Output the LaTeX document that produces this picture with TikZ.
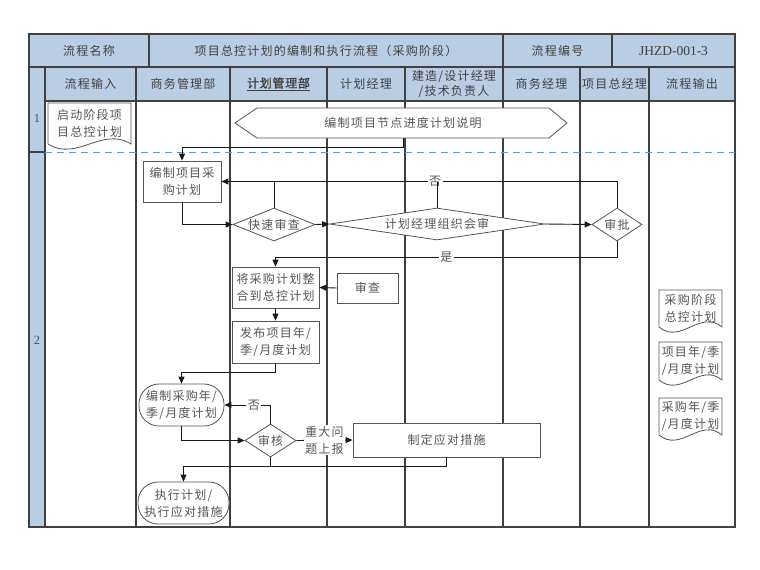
\documentclass[tikz,border=0pt]{standalone}
\usepackage{fontspec}
\setmainfont{Liberation Serif}
\newfontfamily\cjk[LetterSpace=10]{Noto Sans CJK SC}
\newfontfamily\cjkb[LetterSpace=6,FakeBold=1.5]{Noto Sans CJK SC}
\usetikzlibrary{shapes.geometric,arrows.meta,calc}
\definecolor{hdr}{HTML}{B9CDE5}
\definecolor{grid}{HTML}{404040}
\definecolor{txt}{HTML}{555555}
\definecolor{htxt}{HTML}{404040}
\definecolor{dashc}{HTML}{5B9BD5}
\newcommand\docshape[6]{%
  \draw[box] ({#2-#4/2},{#3-#5/2}) -- ({#2+#4/2},{#3-#5/2}) -- ({#2+#4/2},{#3+#5/2})
    .. controls ({#2+#4*0.15},{#3+#5/2-18}) and ({#2-#4*0.15},{#3+#5/2+18}) .. ({#2-#4/2},{#3+#5/2}) -- cycle;
  \node (#1) at (#2,#3) [minimum width=#4, minimum height=#5] {#6};}
\begin{document}
\begin{tikzpicture}[x=1pt,y=-1pt,
  every node/.style={font=\cjk\fontsize{12}{17}\selectfont, text=txt, align=center, inner sep=0pt},
  hd/.style={font=\cjk\fontsize{12}{15}\selectfont, text=htxt},
  box/.style={draw=txt, fill=white, line width=0.8pt},
  dia/.style={diamond, draw=txt, fill=white, line width=0.8pt},
  rbox/.style={draw=txt, fill=white, line width=0.8pt, rounded corners=20pt},
  gline/.style={draw=grid, line width=1.1pt},
  lnk/.style={draw=black!90, line width=0.9pt},
  arr/.style={lnk, -{Triangle[length=7pt,width=6pt]}},
  lbl/.style={fill=white, inner sep=1.5pt}
]
\useasboundingbox (0,0) rectangle (760,570);
% header fills
\fill[hdr] (29,34) rectangle (735,67);
\fill[hdr] (45,67) rectangle (735,101);
\fill[hdr] (29,67) rectangle (45,527);
% grid
\draw[gline] (29,34) rectangle (735,527);
\draw[gline] (29,67) -- (735,67);
\draw[gline] (45,101) -- (735,101);
\foreach \x in {149,503,612} \draw[gline] (\x,34) -- (\x,67);
\foreach \x in {45,136,230,327,405,503,580,649} \draw[gline] (\x,67) -- (\x,527);
\draw[gline] (29,152) -- (45,152);
\draw[dashc, line width=0.9pt, dash pattern=on 7pt off 5pt] (45,152) -- (735,152);
% header texts
\node[hd] (t1) at (89,51) {流程名称};
\node[hd] (t2) at (326,51) {项目总控计划的编制和执行流程（采购阶段）};
\node[hd] (t3) at (557.5,51) {流程编号};
\node[hd, font=\rmfamily\fontsize{13.5}{15}\selectfont] (t4) at (673.5,51) {JHZD-001-3};
\node[hd] (c1h) at (90.5,84) {流程输入};
\node[hd] (c2h) at (183,84) {商务管理部};
\node[hd] (c3h) at (278.5,84) {\underline{\cjkb 计划管理部}};
\node[hd] (c4h) at (366,84) {计划经理};
\node[hd, font=\cjk\fontsize{12}{14.5}\selectfont] (c5h) at (454,84) {建造/设计经理\\/技术负责人};
\node[hd] (c6h) at (541.5,84) {商务经理};
\node[hd] (c7h) at (614.5,84) {项目总经理};
\node[hd] (c8h) at (692,84) {流程输出};
\node[font=\rmfamily\fontsize{12.5}{14}\selectfont] (l1) at (37,118) {1};
\node[font=\rmfamily\fontsize{12.5}{14}\selectfont] (l2) at (37,340) {2};
% input / output documents
\docshape{in}{89.5}{123.5}{83}{41}{启动阶段项\\目总控计划}
\docshape{o1}{690.5}{308.5}{63}{37}{采购阶段\\总控计划}
\docshape{o2}{690.5}{361}{63}{38}{项目年/季\\/月度计划}
\docshape{o3}{690.5}{416.5}{63}{37}{采购年/季\\/月度计划}
% hexagon
\draw[box] (235,123) -- (257,108) -- (549,108) -- (567,123) -- (549,138) -- (257,138) -- cycle;
\node (hex) at (403,123) [minimum width=292, minimum height=30] {编制项目节点进度计划说明};
% coordinates for bends
\coordinate (k1) at (403,147);
\coordinate (ky) at (617,257);
\coordinate (k2) at (275.5,372);
\coordinate (k3) at (270.5,466);
% nodes
\node[box, minimum width=78, minimum height=41] (c1) at (182,181.5) {编制项目采\\购计划};
\node[dia, aspect=2.48, minimum width=82, minimum height=33] (ks) at (274,224.5) {快速审查};
\node[dia, aspect=6.7, minimum width=215, minimum height=32] (hy) at (437,224) {计划经理组织会审};
\node[dia, aspect=1.5, minimum width=50, minimum height=33] (sp) at (617,224.5) {审批};
\node[box, minimum width=87, minimum height=41] (b7) at (275.5,287.5) {将采购计划整\\合到总控计划};
\node[box, minimum width=61, minimum height=30] (sc) at (367.5,288) {审查};
\node[box, minimum width=87, minimum height=42] (b10) at (275.5,342) {发布项目年/\\季/月度计划};
\node[rbox, minimum width=85, minimum height=42] (r1) at (181.5,405) {编制采购年/\\季/月度计划};
\node[dia, aspect=1.55, minimum width=51, minimum height=33] (sh) at (270.5,440.5) {审核};
\node[box, minimum width=187, minimum height=34] (zd) at (446.5,440) {制定应对措施};
\node[rbox, minimum width=91, minimum height=42] (ex) at (183.5,503) {执行计划/\\执行应对措施};
% connectors
\draw[arr] (hex.south) -- (k1) -| (c1.north);
\draw[arr] (c1.south) |- (ks.west);
\draw[arr] (ks.east) -- (hy.west);
\draw[arr] (hy.east) -- (sp.west);
\draw[arr] (sp.north) |- node[lbl, pos=0.73] {否} (c1.east);
\draw[lnk] (ks.north) -- (ks.north |- c1.east);
\draw[lnk] (hy.north) -- (hy.north |- c1.east);
\draw[arr] (sp.south) -- (ky) -| node[lbl, pos=0.25] {是} (b7.north);
\draw[arr] (sc.west) -- (b7.east);
\draw[arr] (b7.south) -- (b10.north);
\draw[arr] (b10.south) -- (k2) -| (r1.north);
\draw[arr] (r1.south) |- (sh.west);
\draw[arr] (sh.north) |- node[lbl, pos=0.68] {否} (r1.east);
\draw[arr] (sh.east) -- node[lbl, inner sep=1pt] {重大问\\题上报} (zd.west);
\draw[lnk] (sh.south) -- (k3);
\draw[lnk] (zd.south) |- (k3);
\draw[arr] (k3) -| (ex.north);
\end{tikzpicture}
\end{document}
